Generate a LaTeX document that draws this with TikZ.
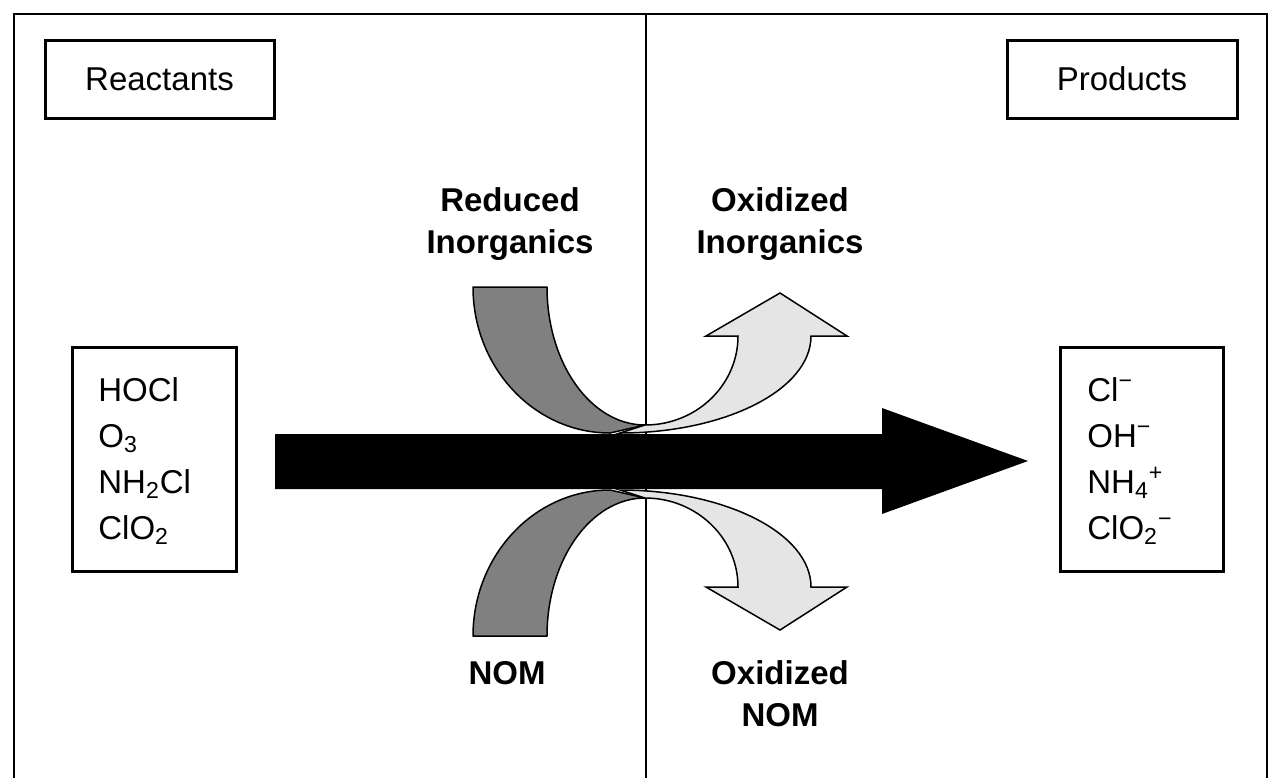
\documentclass[tikz,border=0pt]{standalone}
\usepackage{fontspec}
\setmainfont{Liberation Sans}
\begin{document}
\begin{tikzpicture}[x=0.5pt,y=-0.5pt,
  box/.style={draw,line width=1.5pt},
  lbl/.style={font=\fontsize{16.5}{21}\selectfont\bfseries,align=center},
  txt/.style={font=\fontsize{16.5}{23}\selectfont,align=left,anchor=west,inner sep=0pt},
  dark/.style={fill=black!50,draw,line width=0.75pt,line join=round},
  light/.style={fill=black!10,draw,line width=0.75pt,line join=miter}]
\useasboundingbox (0,0) rectangle (1274,778);
\draw[line width=1pt] (14,778) -- (14,14) -- (1267,14) -- (1267,778);
\draw[line width=1pt] (646,14) -- (646,778);
% boxes
\node[box,minimum width=114.5pt,minimum height=39pt,font=\fontsize{16.5}{17}\selectfont] (r) at (159.5,79) {Reactants};
\node[box,minimum width=115pt,minimum height=39pt,font=\fontsize{16.5}{17}\selectfont] (p) at (1122,79) {Products};
\node[box,minimum width=82pt,minimum height=112pt] (lb) at (154,459) {};
\node[box,minimum width=81.5pt,minimum height=112pt] (rb) at (1141.5,459) {};
\node[txt] (lt) at (98,461) {HOCl\\O\textsubscript{3}\\NH\textsubscript{2}Cl\\ClO\textsubscript{2}};
\node[txt] (rt) at (1087,461) {Cl\textsuperscript{−}\\OH\textsuperscript{−}\\NH\textsubscript{4}\textsuperscript{+}\\ClO\textsubscript{2}\textsuperscript{−}};
% curved arrows (upper) and mirrored (lower)
\foreach \s in {1,-1}{
\begin{scope}[shift={(0,461.5)},yscale=\s,shift={(0,-461.5)}]
\draw[dark] (473,287) -- (547,287)
  arc[start angle=180,end angle=90,x radius=98,y radius=138]
  -- (610,433)
  arc[start angle=90,end angle=180,x radius=137,y radius=146] -- cycle;
\draw[light] (645,425)
  arc[start angle=90,end angle=0,x radius=93,y radius=89]
  -- (706,336) -- (780,293) -- (847,336) -- (811,336)
  arc[start angle=0,end angle=90,x radius=191,y radius=97]
  -- cycle;
\end{scope}}
% main arrow
\fill (275,434) -- (882,434) -- (882,408) -- (1028,461) -- (882,514) -- (882,489) -- (275,489) -- cycle;
% labels
\node[lbl] (ri) at (510,224) {Reduced\\Inorganics};
\node[lbl] (oi) at (780,224) {Oxidized\\Inorganics};
\node[lbl] (nom) at (507,673) {NOM};
\node[lbl] (onom) at (780,694) {Oxidized\\NOM};
\end{tikzpicture}
\end{document}
